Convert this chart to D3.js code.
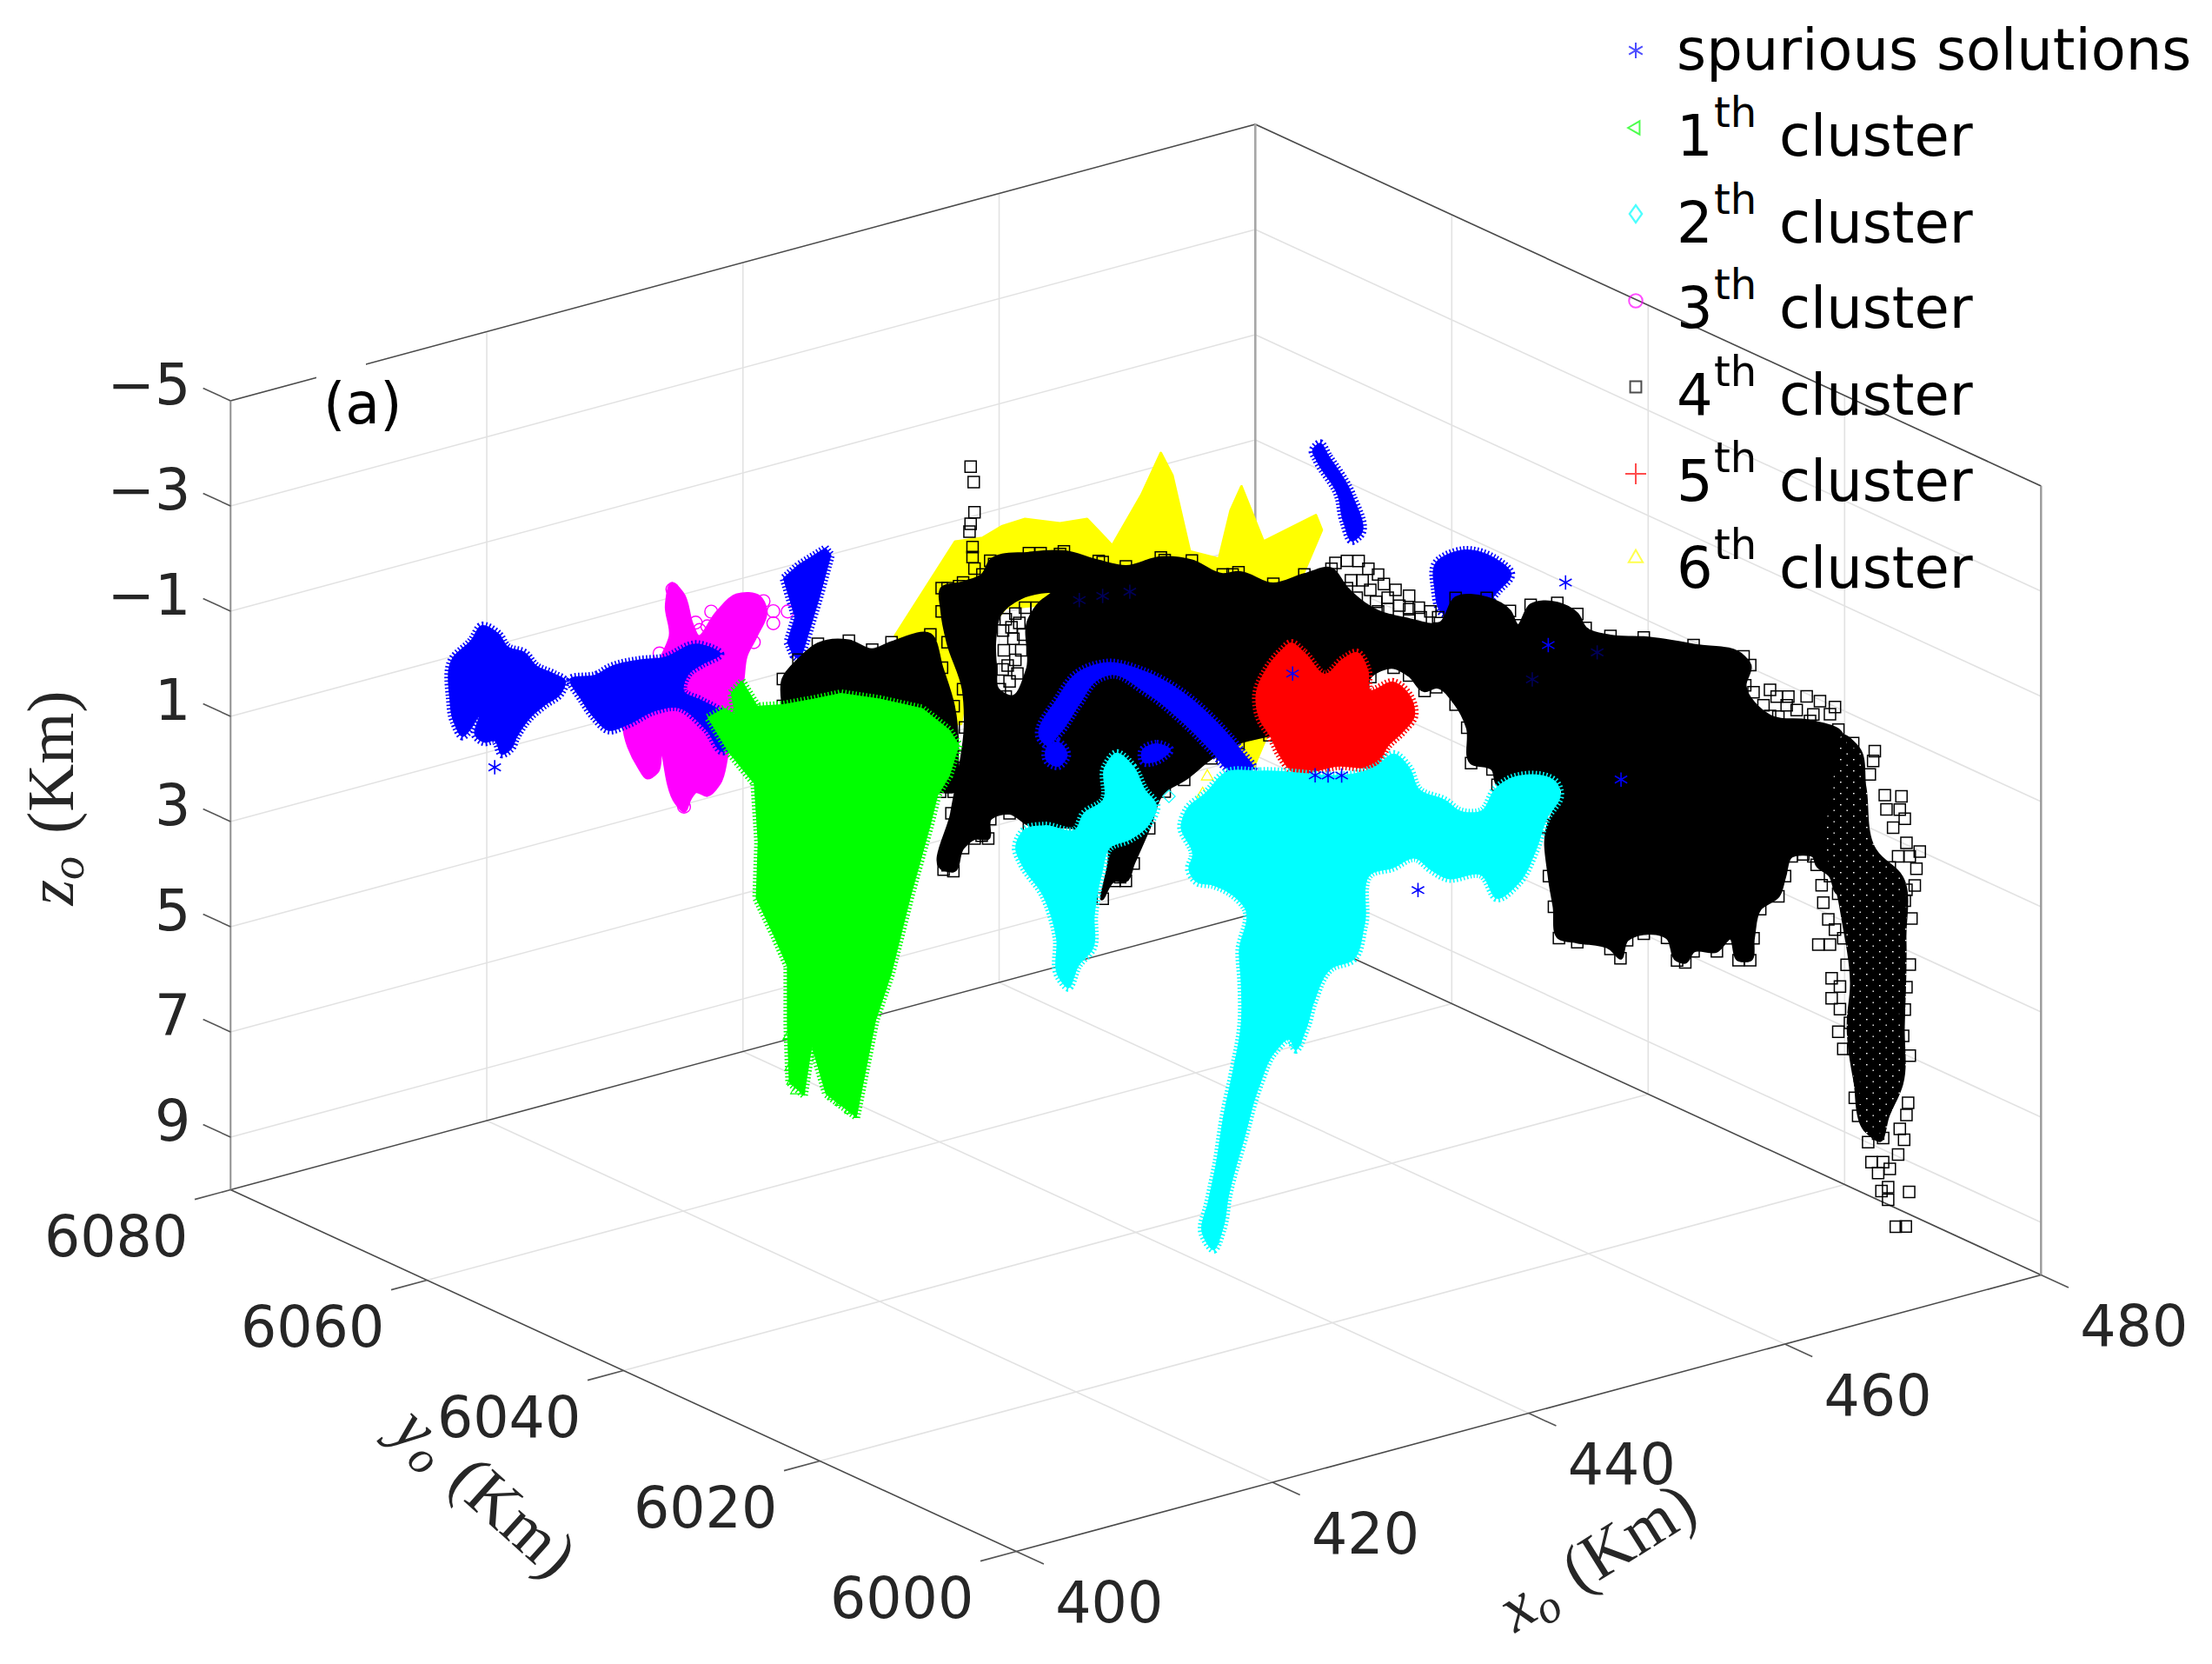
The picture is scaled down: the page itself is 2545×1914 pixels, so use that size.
<!DOCTYPE html>
<html>
<head>
<meta charset="utf-8">
<title>source clusters</title>
<script src="https://cdn.jsdelivr.net/npm/d3@7"></script>
<style>
    html, body { margin: 0; padding: 0; background: #fff; }
    svg { display: block; }
    text { font-family: "DejaVu Sans", sans-serif; }
</style>
</head>
<body>
<svg id="chart" width="2545" height="1914"></svg>
<script>
// tick labels
const xTicks = [400, 420, 440, 460, 480];
const yTicks = [6000, 6020, 6040, 6060, 6080];
const zTicks = [-5, -3, -1, 1, 3, 5, 7, 9];

// legend
const legendLabels = ["spurious solutions", "1", "2", "3", "4", "5", "6"];

// every list below is [xo, zo], on one yo plane
const spuriousY = 6040;
const spuriousWest = [[388.9,-4.9],[390.35,-4.63],[390.95,-4.37],[392.32,-4.16],[393.23,-3.85],[394.59,-3.61],[395.5,-3.41],[395.19,-3.2],[393.83,-3.04],[392.77,-2.89],[391.71,-2.59],[391.26,-2.39],[390.5,-2.33],[389.89,-2.63],[389.14,-2.65],[388.38,-2.84],[388.68,-3.16],[388.08,-2.97],[387.47,-2.87],[386.71,-3.21],[386.41,-3.67],[386.56,-4.4],[388.08,-4.67]];
const spuriousMid = [[395.8,-3.42],[397.92,-3.38],[398.83,-3.45],[401.25,-3.44],[403.07,-3.36],[405.79,-3.44],[407.61,-3.12],[406.09,-3.01],[405.19,-2.92],[404.73,-2.62],[406.09,-2.35],[407.61,-2.03],[408.21,-1.28],[407.91,-1.25],[406.4,-1.77],[404.13,-2.33],[402.46,-2.37],[400.34,-2.25],[398.83,-2.24],[397.62,-2.58],[396.71,-2.96]];
const spuriousWedge = [[415.78,-4.61],[416.24,-4.44],[415.33,-3.69],[414.42,-3.01],[413.82,-2.58],[413.21,-2.73],[412.76,-3.01],[413.36,-3.45],[412.45,-4.25],[413.66,-4.43]];
const spuriousStrip = [[454.36,-4.07],[455.12,-3.76],[456.94,-2.9],[457.54,-2.09],[456.94,-2.02],[456.18,-2.44],[455.73,-2.98],[454.06,-3.76],[453.76,-3.96]];
const spuriousRound = [[463.3,-1.16],[465.57,-1.3],[467.99,-0.99],[469.35,-0.58],[468.29,-0.32],[467.08,-0.09],[463.75,-0.24],[463.3,-0.71]];
const spuriousArc = [[432.56,0.15],[433.93,-0.58],[435.29,-0.93],[437.71,-0.99],[440.74,-0.62],[443.77,-0.01],[446.49,0.76],[448.31,1.4],[449.22,1.79],[447.4,1.72],[445.89,1.24],[443.77,0.58],[440.74,-0.21],[438.01,-0.72],[437.1,-0.7],[435.59,-0.32],[434.08,0.13],[433.02,0.29]];
const spuriousSmallA = [[433.02,0.32],[433.93,0.27],[434.68,0.58],[433.93,0.75],[433.02,0.58]];
const spuriousSmallB = [[440.44,0.88],[441.65,0.81],[442.71,0.99],[441.34,1.16],[440.59,1.11]];
const spuriousSingles = [[389.95,-2.13],[473.55,-0.15],[472.2,0.95],[477.88,3.88],[462.03,4.94],[455.01,2.3],[454,2.23],[456.07,2.37],[452.24,0.18]];
// these sit among the black squares and barely show
const spuriousBuried = [[435.59,-2.31],[437.41,-2.27],[439.53,-2.21],[470.95,1.52],[476.02,1.34]];

const cluster1Y = 6040;
const cluster1 = [[409.27,-2.51],[410.48,-1.95],[412.45,-1.85],[414.88,-1.8],[416.99,-1.77],[420.02,-1.46],[423.35,-1.06],[425.47,-0.51],[426.23,-0.17],[425.47,0.37],[424.56,0.68],[423.96,1.23],[422.45,2.46],[420.93,3.84],[419.72,4.64],[418.21,6.39],[415.78,5.78],[414.72,4.83],[414.12,5.71],[412.91,5.37],[412.76,4.26],[412.76,3.15],[411.7,2.49],[410.33,1.7],[410.48,0.64],[410.18,-0.49],[408.21,-1.21],[406.55,-1.99],[407.91,-2.08],[408.67,-1.92],[408.37,-2.34]];
const cluster1Singles = [[413.51,5.56],[413.21,5.36],[417.75,6.21],[416.99,6.01],[416.39,5.86],[417.9,6.03],[413.06,5.09],[412.91,4.49]];

const cluster2Y = 6040;
const cluster2West = [[438.47,0.78],[439.83,1.13],[440.74,1.63],[441.65,1.99],[441.04,2.32],[439.53,2.51],[438.01,2.56],[437.41,2.97],[436.8,3.75],[436.65,4.4],[435.59,4.63],[434.68,5.01],[433.93,4.74],[433.77,3.99],[432.71,3.11],[431.05,2.41],[430.59,2.08],[431.35,1.76],[432.87,1.79],[435.29,2.02],[435.89,1.77],[437.41,1.61],[437.56,0.99]];
const cluster2East = [[446.98,1.71],[449.71,1.86],[458.79,2.36],[460.15,2.22],[461.36,2.56],[462.12,3.02],[464.24,3.38],[465.3,3.64],[466.97,3.75],[468.03,3.41],[469.39,3.28],[473.02,3.68],[473.17,3.84],[472.11,4.25],[471.21,4.82],[470,5.31],[468.18,5.51],[466.97,4.99],[464.24,4.87],[463.03,4.63],[461.82,4.33],[460,4.4],[458.49,4.39],[457.88,5.33],[456.97,5.94],[455.31,5.99],[453.95,6.53],[453.34,7],[452.43,7.35],[451.98,7.13],[450.92,7.28],[449.71,7.83],[448.5,8.77],[447.28,9.77],[446.83,10.38],[446.07,10.74],[445.16,10.36],[445.62,9.79],[446.22,9.13],[446.83,8.22],[447.59,7.39],[448.19,6.59],[448.19,5.77],[448.04,5.19],[448.5,4.4],[447.59,4.1],[446.07,3.81],[444.71,3.65],[444.11,3.36],[444.41,3.13],[443.5,2.5],[443.96,2.21],[445.47,1.99]];
const cluster2Singles = [[442.59,1.88],[452.43,7.22],[446.07,10.58],[445.77,10.37],[446.22,10.21],[445.92,10],[446.53,9.85]];

const cluster3Y = 6040;
const cluster3 = [[403.82,-4.71],[404.58,-4.48],[405.34,-3.84],[405.79,-3.58],[407.31,-3.93],[408.82,-4.16],[410.64,-4],[411.09,-3.75],[410.33,-3.28],[409.58,-2.97],[409.27,-2.47],[408.67,-1.99],[408.06,-1.15],[407.46,-0.67],[406.55,-0.51],[405.64,-0.64],[405.19,-0.53],[404.73,-0.33],[404.13,-0.52],[402.91,-1.6],[402.61,-1.21],[401.85,-1.15],[401.25,-1.38],[400.04,-2.27],[403.07,-3.4],[403.67,-3.72],[403.37,-4.34]];
const cluster3Singles = [[403.82,-4.6],[404.07,-4.43],[406.85,-3.98],[406.55,-3.72],[405.94,-3.69],[405.64,-3.85],[411.7,-3.67],[411.7,-3.44],[412.82,-3.59],[404.73,-0.41],[410.18,-3.18],[410.94,-3.91],[402.82,-3.45]];

const cluster4WestY = 6040;
const cluster4West = [[412.45,-2.33],[413.66,-2.62],[415.18,-2.82],[417.6,-2.72],[419.42,-2.43],[420.93,-2.47],[423.96,-2.42],[424.87,-1.73],[425.78,-0.94],[426.08,0.04],[425.78,0.69],[424.72,0.62],[412.45,-1.82]];
const cluster4MainY = 6020;
const cluster4Main = [[409.51,-5.97],[411.18,-5.97],[412.69,-6.02],[413.3,-6.24],[416.32,-6.19],[419.05,-6.04],[421.77,-5.68],[423.89,-5.44],[426.62,-5.43],[429.04,-5.21],[431.46,-4.79],[432.68,-4.75],[435.4,-4.35],[437.82,-4.37],[439.94,-4.34],[441.15,-3.89],[443.58,-3.29],[446,-2.98],[448.42,-2.75],[449.63,-3.15],[452.06,-2.99],[453.87,-2.62],[454.46,-2.31],[455.49,-2.63],[457.57,-2.53],[459.13,-2.22],[459.78,-1.91],[461.72,-1.63],[464.32,-1.43],[468.21,-1.03],[472.11,-0.56],[472.63,-0.36],[472.24,0],[474.18,0.71],[477.3,1.01],[479.51,1.32],[480.16,2.46],[480.16,4.48],[479.5,4.44],[478.86,4.06],[477.82,3.78],[477.56,3.6],[476.78,3.51],[475.87,3.49],[475.35,3.83],[474.83,4.18],[473.41,4.33],[472.89,4.85],[472.63,5.25],[471.72,5.19],[471.07,4.73],[470.03,4.91],[468.21,4.79],[467.56,4.96],[466.92,4.88],[466.14,4.4],[464.32,4.2],[463.02,4.24],[462.5,4.55],[461.72,4.32],[459.13,4.02],[457.7,3.85],[457.31,3.23],[456.92,2.62],[456.79,1.68],[457.18,1.45],[457.96,1.09],[454.2,0.58],[452.9,0.62],[452.51,0.3],[450.84,0.07],[450.54,-0.62],[449.63,-1.12],[448.12,-1.55],[447.21,-1.54],[446,-1.91],[444.79,-2.14],[442.97,-2.08],[442.97,-1.41],[435.1,-1.49],[432.68,-1.5],[430.56,-1.35],[428.44,-1.08],[426.92,-0.96],[425.71,-0.34],[424.5,0.25],[423.89,0.54],[422.99,0.48],[422.08,0.76],[422.38,-0.26],[419.96,-0.71],[416.32,-1.02],[414.81,-1.34],[413.3,-1.33],[413.14,-0.97],[412.08,-1.04],[411.18,-0.92],[410.42,-0.53],[409.66,-0.61],[410.27,-1.64],[410.72,-2.2],[411.33,-3.2],[411.18,-3.94],[409.97,-4.91],[409.51,-5.53]];
// empty crescent inside the main sheet
const cluster4Gap = [[413.75,-4.14],[413.66,-4.67],[414.05,-5.16],[415.72,-5.38],[418.14,-5.31],[417.23,-5.2],[416.32,-4.93],[416.17,-3.98],[414.96,-3.55],[413.9,-3.76]];
const cluster4Loose = [[414.51,-5.05],[415.26,-5.11],[416.02,-5.17],[416.93,-5.11],[414.3,-4.85],[415.11,-4.64],[415.87,-4.67],[414.36,-4.47],[415.26,-4.23],[414.27,-4.11],[415.72,-4.38],[414.81,-3.85],[414.05,-3.75],[415.42,-3.96],[414.96,-4.87],[415.57,-4.91],[414.66,-4.16],[414.51,-3.58],[440.25,-4.43],[441.15,-4.41],[442.06,-4.35],[442.82,-4.15],[441.46,-4.02],[442.37,-3.96],[443.58,-3.99],[444.03,-3.78],[442.97,-3.74],[441.91,-3.66],[444.94,-3.61],[444.33,-3.5],[443.42,-3.48],[446,-3.43],[445.24,-3.29],[444.33,-3.28],[446.76,-3.15],[446,-3.17],[447.66,-3.02],[448.27,-2.87],[446.91,-2.96],[409.97,-5.94],[410.87,-5.92],[413.6,-6.16],[417.23,-6.13],[418.75,-6.01],[422.08,-5.64],[426.92,-5.36],[432.22,-4.74],[409.97,-0.67],[412.63,-1.06],[423.44,0.44]];
const cluster4StackY = 6060;
const cluster4Stack = [[442.44,-2.68],[442.68,-2.37],[442.74,-1.79],[442.44,-1.59],[442.35,-1.45],[442.59,-1.14],[442.59,-0.95],[442.74,-0.72]];
const cluster4TailY = 6010;
const cluster4TailCore = [[472.23,0.07],[473.52,0.41],[474.04,1.2],[474.82,2.43],[476.9,3.08],[477.16,4.28],[477.03,5.95],[476.9,7.04],[475.86,7.56],[475.08,8.01],[474.04,7.78],[473,6.69],[472.49,5.65],[472.75,4.83],[472.1,3.6],[471.71,3.07],[471.19,2.61],[471.71,0.55]];
const cluster4Tail = [[473,0.29],[474.69,0.55],[474.56,0.73],[474.3,0.97],[475.47,1.44],[476.77,1.55],[475.6,1.72],[476.64,1.79],[477.03,1.99],[476.12,2.1],[477.16,2.46],[478.2,2.69],[477.94,3],[477.42,2.73],[476.51,2.67],[475.86,2.84],[477.81,3.31],[477.16,3.35],[477.55,3.92],[477.03,3.55],[470.54,2.83],[470.67,3.17],[471.06,3.51],[470.28,3.94],[471.19,4],[471.58,3.74],[471.32,4.65],[471.32,5.03],[471.97,4.85],[471.84,5.7],[472.23,6.05],[473,6.1],[477.42,6.52],[473.13,7.04],[473.39,7.4],[477.29,7.41],[477.16,7.63],[476.64,7.86],[476.98,8.09],[474.17,7.95],[474.95,7.84],[474.43,8.35],[475.34,8.41],[474.95,8.59],[476.51,8.34],[475.21,8.95],[475.73,8.91],[477.37,9.11],[475.73,9.15],[476.33,9.7],[477.11,9.75],[477.42,4.79],[477.16,5.2],[477.03,5.62],[476.9,6.11],[473.52,6.65],[472.75,5.59],[472.49,4.47],[472.23,3.95],[471.97,5.28],[475.86,8.57],[475.34,7.95],[474.3,7.63],[465.22,-1.19],[466.51,-1.15],[467.03,-0.99],[467.94,-0.93],[467.81,-0.77],[469.37,-0.84],[470.41,-0.68],[471.58,-0.49],[471.19,-0.38],[466,-0.89],[467.16,-0.6],[468.59,-0.63],[469.89,-0.46]];

const cluster5Y = 6040;
const cluster5 = [[452.09,-0.42],[453.15,-0.17],[454.82,0.35],[456.18,0.15],[457.24,0.1],[458.15,0.5],[458.3,0.88],[460.12,0.85],[461.48,1.23],[461.78,1.62],[460.87,1.86],[459.66,2.07],[458.91,2.36],[455.88,2.19],[452.09,2.02],[451.18,1.66],[450.43,1.24],[449.67,0.9],[449.37,0.36],[450.13,-0.03],[451.34,-0.32]];

const cluster6Y = 6040;
const cluster6 = [[421.21,-2.58],[425.9,-4.06],[428.02,-3.99],[429.53,-4.11],[431.35,-4.13],[434.08,-3.87],[436.2,-3.81],[438.16,-3.18],[440.44,-3.99],[441.95,-4.69],[442.86,-4.2],[444.22,-2.67],[446.49,-2.38],[447.4,-3.24],[448.25,-3.64],[449.97,-2.48],[454.06,-2.71],[454.52,-2.4],[452.85,-1.55],[446.79,-1.73],[429.84,-2.54],[429.38,-2.43],[428.02,-2.74],[425.6,-2.31],[426.66,-1.06],[426.36,-0.56],[425.6,-0.61],[424.39,-1.72]];
const cluster6Bit = [[448.16,1.24],[450.19,1.26],[449.22,1.75],[448.01,1.52]];
const cluster6Singles = [[445.58,1.7],[445.22,2.01]];

// view of the box, px
const origin = [1169.3, 1784.5];
const xVec = [1179, -318];
const yVec = [-904, -416];

const xScale = d3.scaleLinear().domain([400, 480]).range([0, 1]);
const yScale = d3.scaleLinear().domain([6000, 6080]).range([0, 1]);
const zScale = d3.scaleLinear().domain([10, -5]).range([0, -907.5]);

function project(x, y, z) {
    return [
        origin[0] + xScale(x) * xVec[0] + yScale(y) * yVec[0],
        origin[1] + xScale(x) * xVec[1] + yScale(y) * yVec[1] + zScale(z)
    ];
}

const svg = d3.select("#chart");

//speckled fill for the part of the tail where squares pile up
const mesh = svg.append("defs").append("pattern")
    .attr("id", "mesh")
    .attr("patternUnits", "userSpaceOnUse")
    .attr("width", 15).attr("height", 13);
mesh.append("rect").attr("width", 15).attr("height", 13).attr("fill", "#000");
mesh.append("rect").attr("x", 2).attr("y", 2).attr("width", 1.6).attr("height", 1.4).attr("fill", "#fff");
mesh.append("rect").attr("x", 9.5).attr("y", 8.5).attr("width", 1.4).attr("height", 1.4).attr("fill", "#fff");

const boxLayer = svg.append("g");
const markLayer = svg.append("g").style("filter", "blur(0.5px)");
const textLayer = svg.append("g");

function edge(a, b, color, width) {
    const p = project(a[0], a[1], a[2]);
    const q = project(b[0], b[1], b[2]);
    boxLayer.append("line")
        .attr("x1", p[0]).attr("y1", p[1])
        .attr("x2", q[0]).attr("y2", q[1])
        .attr("stroke", color)
        .attr("stroke-width", width);
}

//grid on the floor and the two back walls
const gridColor = "#e2e2e2";
xTicks.slice(1, 4).forEach(function (x) {
    edge([x, 6000, 10], [x, 6080, 10], gridColor, 1.6);
    edge([x, 6080, 10], [x, 6080, -5], gridColor, 1.6);
});
yTicks.slice(1, 4).forEach(function (y) {
    edge([400, y, 10], [480, y, 10], gridColor, 1.6);
    edge([480, y, 10], [480, y, -5], gridColor, 1.6);
});
zTicks.forEach(function (z) {
    edge([400, 6080, z], [480, 6080, z], gridColor, 1.6);
    edge([480, 6080, z], [480, 6000, z], gridColor, 1.6);
});

//box outline
const axisColor = "#4a4a4a";
edge([400, 6000, 10], [480, 6000, 10], axisColor, 1.6);
edge([400, 6000, 10], [400, 6080, 10], axisColor, 1.6);
edge([400, 6080, 10], [480, 6080, 10], axisColor, 1.6);
edge([480, 6080, 10], [480, 6000, 10], axisColor, 1.6);
edge([400, 6080, -5], [480, 6080, -5], axisColor, 1.6);
edge([480, 6080, -5], [480, 6000, -5], axisColor, 1.6);
edge([400, 6080, 10], [400, 6080, -5], "#8f8f8f", 2);
edge([480, 6000, 10], [480, 6000, -5], "#9a9a9a", 2.4);
edge([480, 6080, 10], [480, 6080, -5], "#a6a6a6", 2.6);

//tick marks, they run along the neighbouring axis
const tickLen = 0.035;
xTicks.forEach(function (x) {
    edge([x, 6000, 10], [x, 6000 - 80 * tickLen, 10], "#555", 1.6);
});
yTicks.forEach(function (y) {
    edge([400, y, 10], [400 - 80 * tickLen, y, 10], "#555", 1.6);
});
zTicks.forEach(function (z) {
    edge([400, 6080, z], [400, 6080 + 80 * tickLen, z], "#555", 1.6);
});

//white box behind the panel letter cuts the top edge
boxLayer.append("rect")
    .attr("x", 364).attr("y", 412)
    .attr("width", 57).attr("height", 30)
    .attr("fill", "#fff");

//draws one sheet of a cluster: solid body with a thin marker fringe
function sheet(list, y, style, gap) {
    const line = d3.line()
        .x(function (d) { return project(d[0], y, d[1])[0]; })
        .y(function (d) { return project(d[0], y, d[1])[1]; })
        .curve(style.sharp ? d3.curveLinearClosed : d3.curveCatmullRomClosed.alpha(1));
    let d = line(list);
    if (gap) d += line(gap);
    markLayer.append("path")
        .attr("d", d)
        .attr("fill", style.fill || style.color)
        .attr("fill-rule", "evenodd")
        .attr("stroke", style.color)
        .attr("stroke-width", style.fringe)
        .attr("stroke-dasharray", style.dash)
        .attr("stroke-linejoin", "round");
    if (style.beads) markers(list, y, style);
}

function markers(list, y, style, opacity) {
    const symbol = d3.symbol().type(style.symbol).size(style.size);
    markLayer.append("g").selectAll("path")
        .data(list)
        .enter()
        .append("path")
        .attr("transform", function (d) {
            const p = project(d[0], y, d[1]);
            return "translate(" + p[0] + "," + p[1] + ")";
        })
        .attr("d", symbol())
        .attr("fill", "none")
        .attr("stroke", style.color)
        .attr("stroke-opacity", opacity === undefined ? 1 : opacity)
        .attr("stroke-width", style.stroke);
}

const blueStyle = { color: "#0000ff", symbol: d3.symbolAsterisk, size: 190, stroke: 1.6, fringe: 8, dash: "1.6 2.4" };
const wedgeStyle = Object.assign({}, blueStyle, { sharp: true });
const greenStyle = { color: "#00ff00", symbol: d3.symbolTriangle2, size: 130, stroke: 1.2, fringe: 8, dash: "1.5 2.5", sharp: true };
const cyanStyle = { color: "#00ffff", symbol: d3.symbolDiamond2, size: 130, stroke: 1.2, fringe: 8, dash: "1.5 2.5" };
const magentaStyle = { color: "#ff00ff", symbol: d3.symbolCircle, size: 170, stroke: 1.4, fringe: 4, dash: "none" };
const blackStyle = { color: "#000000", symbol: d3.symbolSquare2, size: 215, stroke: 1.5, fringe: 3, dash: "none", beads: true };
const redStyle = { color: "#ff0000", symbol: d3.symbolPlus, size: 150, stroke: 1.2, fringe: 8, dash: "1.6 2.4" };
const yellowStyle = { color: "#ffff00", symbol: d3.symbolTriangle2, size: 130, stroke: 1.2, fringe: 3, dash: "none", sharp: true };
const tailStyle = { color: "#000000", fill: "url(#mesh)", fringe: 0, dash: "none" };

sheet(cluster3, cluster3Y, magentaStyle);
markers(cluster3Singles, cluster3Y, magentaStyle);
[spuriousWest, spuriousMid, spuriousStrip, spuriousRound].forEach(function (list) {
    sheet(list, spuriousY, blueStyle);
});
sheet(spuriousWedge, spuriousY, wedgeStyle);
sheet(cluster6, cluster6Y, yellowStyle);
sheet(cluster6Bit, cluster6Y, yellowStyle);
markers(cluster6Singles, cluster6Y, yellowStyle);
sheet(cluster4West, cluster4WestY, blackStyle);
sheet(cluster4Main, cluster4MainY, blackStyle, cluster4Gap);
markers(cluster4Loose, cluster4MainY, blackStyle);
markers(cluster4Stack, cluster4StackY, blackStyle);
sheet(cluster4TailCore, cluster4TailY, tailStyle);
markers(cluster4Tail, cluster4TailY, blackStyle);
markers(spuriousBuried, spuriousY, blueStyle, 0.35);
[spuriousArc, spuriousSmallA, spuriousSmallB].forEach(function (list) {
    sheet(list, spuriousY, blueStyle);
});
sheet(cluster5, cluster5Y, redStyle);
sheet(cluster1, cluster1Y, greenStyle);
markers(cluster1Singles, cluster1Y, greenStyle);
sheet(cluster2West, cluster2Y, cyanStyle);
sheet(cluster2East, cluster2Y, cyanStyle);
markers(cluster2Singles, cluster2Y, cyanStyle);
markers(spuriousSingles, spuriousY, blueStyle);

//tick labels
const tickColor = "#262626";
const tickSize = 65;
xTicks.forEach(function (x) {
    const p = project(x, 6000, 10);
    textLayer.append("text").attr("x", p[0] + 107).attr("y", p[1] + 81.5)
        .attr("text-anchor", "middle").attr("font-size", tickSize).attr("fill", tickColor).text(x);
});
yTicks.forEach(function (y) {
    const p = project(400, y, 10);
    textLayer.append("text").attr("x", p[0] - 49).attr("y", p[1] + 76)
        .attr("text-anchor", "end").attr("font-size", tickSize).attr("fill", tickColor).text(y);
});
zTicks.forEach(function (z) {
    const p = project(400, 6080, z);
    textLayer.append("text").attr("x", p[0] - 46).attr("y", p[1] + 4)
        .attr("text-anchor", "end").attr("font-size", tickSize).attr("fill", tickColor)
        .text(String(z).replace("-", "\u2212"));
});

//axis labels
function axisLabel(letter, cx, cy, angle) {
    const t = textLayer.append("text")
        .attr("transform", "translate(" + cx + "," + cy + ") rotate(" + angle + ")")
        .attr("text-anchor", "middle")
        .attr("fill", "#262626")
        .style("font-family", '"Liberation Serif", serif')
        .attr("font-size", 76);
    t.append("tspan").attr("font-style", "italic").text(letter);
    t.append("tspan").attr("font-style", "italic").attr("font-size", 54).attr("dy", 12).text("o");
    t.append("tspan").attr("dy", -12).attr("dx", 26).text("(Km)");
}
axisLabel("z", 84, 918, -90);
axisLabel("y", 542, 1734, 42);
axisLabel("x", 1850, 1812, -32);

//panel letter
textLayer.append("text").attr("x", 372).attr("y", 487)
    .attr("font-size", 65).attr("fill", "#000").text("(a)");

//legend
const legendSymbols = [
    { style: blueStyle, size: 230 },
    { style: greenStyle, size: 170, rotate: -90 },
    { style: cyanStyle, size: 130, tall: 1.4 },
    { style: magentaStyle, size: 190 },
    { style: blackStyle, size: 210 },
    { style: redStyle, size: 190 },
    { style: yellowStyle, size: 190 }
];
const legendRows = [58, 147, 246, 346, 445, 545, 642];
const legendBase = [79.5, 178.6, 279, 377, 477, 576, 676];
legendLabels.forEach(function (label, i) {
    const s = legendSymbols[i];
    const tf = "translate(1882," + legendRows[i] + ")" +
        (s.rotate ? " rotate(" + s.rotate + ")" : "") +
        (s.tall ? " scale(1," + s.tall + ")" : "");
    textLayer.append("path")
        .attr("transform", tf)
        .attr("d", d3.symbol().type(s.style.symbol).size(s.size)())
        .attr("fill", "none")
        .attr("stroke", s.style.color)
        .attr("stroke-opacity", 0.7)
        .attr("stroke-width", 2);
    const t = textLayer.append("text").attr("y", legendBase[i]).attr("font-size", 65.5).attr("fill", "#000");
    if (i === 0) {
        t.attr("x", 1929).text(label);
    } else {
        t.append("tspan").attr("x", 1929).text(label);
        t.append("tspan").attr("x", 1972).attr("dy", -33).attr("font-size", 48).text("th");
        t.append("tspan").attr("x", 2047).attr("dy", 33).text("cluster");
    }
});
</script>
</body>
</html>
